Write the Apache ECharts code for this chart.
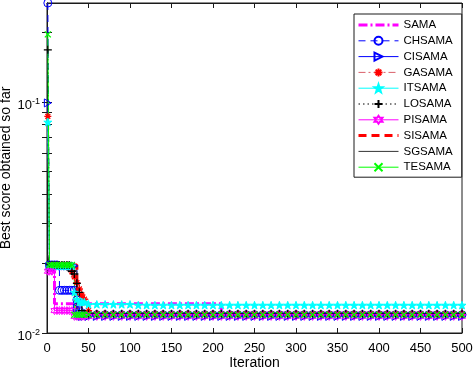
<!DOCTYPE html>
<html>
<head>
<meta charset="utf-8">
<script src="https://cdn.jsdelivr.net/npm/echarts@6/dist/echarts.min.js"></script>
<style>
html,body{margin:0;padding:0;background:#fff;}
#c{width:474px;height:371px;}
</style>
</head>
<body>
<div id="c"></div>
<script>
// ---- data ----
const iterations = [1,3,6,9,12,15,18,21,24,27,30,33,36,39,42,45,
  50,60,70,80,90,100,110,120,130,140,150,160,170,180,190,200,210,220,230,240,250,
  260,270,280,290,300,310,320,330,340,350,360,370,380,390,400,410,420,430,440,450,
  460,470,480,490,500];

const seriesNames = ['SAMA','CHSAMA','CISAMA','GASAMA','ITSAMA','LOSAMA','PISAMA','SISAMA','SGSAMA','TESAMA'];

const SAMA = [0.0186,0.0186,0.0186,0.0134,0.0134,0.0134,0.0134,0.0134,0.0134,0.0134,0.0134,0.0134,0.0134,0.0134,0.0134,0.0134,
  0.0134,0.0134,0.0134,0.0134,0.0134,0.0134,0.0134,0.0134,0.0134,0.0134,0.0134,0.0134,0.0134,0.0134,0.0134,0.0134,
  0.0122,0.0122,0.0122,0.0122,0.0122,0.0122,0.0122,0.0122,0.0122,0.0122,0.0122,0.0122,0.0122,0.0122,0.0122,0.0122,
  0.0122,0.0122,0.0122,0.0122,0.0122,0.0122,0.0122,0.0122,0.0122,0.0122,0.0122,0.0122,0.0122,0.0122];
const CHSAMA = [0.268,0.0197,0.0197,0.0197,0.0197,0.0153,0.0153,0.0153,0.0153,0.0153,0.0153,0.0153,0.0139,0.0125,0.0121,0.0121,
  0.0120,0.0120,0.0120,0.0120,0.0120,0.0120,0.0120,0.0120,0.0120,0.0120,0.0120,0.0120,0.0120,0.0120,0.0120,0.0120,
  0.0120,0.0120,0.0120,0.0120,0.0120,0.0120,0.0120,0.0120,0.0120,0.0120,0.0120,0.0120,0.0120,0.0120,0.0120,0.0120,
  0.0120,0.0120,0.0120,0.0120,0.0120,0.0120,0.0120,0.0120,0.0120,0.0120,0.0120,0.0120,0.0120,0.0120];
const CISAMA = [0.099,0.0195,0.0195,0.0195,0.0195,0.0195,0.0195,0.0195,0.0195,0.0195,0.0195,0.0195,0.0128,0.0119,0.0118,0.0118,
  0.0118,0.0118,0.0118,0.0118,0.0118,0.0118,0.0118,0.0118,0.0118,0.0118,0.0118,0.0118,0.0118,0.0118,0.0118,0.0118,
  0.0118,0.0118,0.0118,0.0118,0.0118,0.0118,0.0118,0.0118,0.0118,0.0118,0.0118,0.0118,0.0118,0.0118,0.0118,0.0118,
  0.0118,0.0118,0.0118,0.0118,0.0118,0.0118,0.0118,0.0118,0.0118,0.0118,0.0118,0.0118,0.0118,0.0118];
const GASAMA = [0.0866,0.0197,0.0197,0.0197,0.0197,0.0197,0.0197,0.0197,0.0197,0.0197,0.0184,0.0175,0.0165,0.0155,0.0146,0.0140,
  0.0125,0.0121,0.0121,0.0121,0.0121,0.0121,0.0121,0.0121,0.0121,0.0121,0.0121,0.0121,0.0121,0.0121,0.0121,0.0121,
  0.0121,0.0121,0.0121,0.0121,0.0121,0.0121,0.0121,0.0121,0.0121,0.0121,0.0121,0.0121,0.0121,0.0121,0.0121,0.0121,
  0.0121,0.0121,0.0121,0.0121,0.0121,0.0121,0.0121,0.0121,0.0121,0.0121,0.0121,0.0121,0.0121,0.0121];
const ITSAMA = [0.0818,0.0195,0.0195,0.0195,0.0195,0.0195,0.0195,0.0195,0.0195,0.0195,0.0195,0.0150,0.0140,0.0136,0.0136,0.0136,
  0.0133,0.0133,0.0133,0.0133,0.0133,0.0133,0.0132,0.0132,0.0132,0.0132,0.0132,0.0132,0.0132,0.0132,0.0132,0.0132,
  0.0132,0.0132,0.0132,0.0132,0.0132,0.0132,0.0132,0.0132,0.0132,0.0132,0.0132,0.0132,0.0132,0.0132,0.0132,0.0132,
  0.0132,0.0132,0.0132,0.0132,0.0132,0.0132,0.0132,0.0132,0.0132,0.0132,0.0132,0.0132,0.0132,0.0132];
const LOSAMA = [0.168,0.0197,0.0197,0.0197,0.0197,0.0197,0.0197,0.0197,0.0197,0.0197,0.0185,0.0180,0.0164,0.0150,0.0125,0.0121,
  0.0121,0.0121,0.0121,0.0121,0.0121,0.0121,0.0121,0.0121,0.0121,0.0121,0.0121,0.0121,0.0121,0.0121,0.0121,0.0121,
  0.0121,0.0121,0.0121,0.0121,0.0121,0.0121,0.0121,0.0121,0.0121,0.0121,0.0121,0.0121,0.0121,0.0121,0.0121,0.0121,
  0.0121,0.0121,0.0121,0.0121,0.0121,0.0121,0.0121,0.0121,0.0121,0.0121,0.0121,0.0121,0.0121,0.0121];
const PISAMA = [0.0185,0.0185,0.0185,0.0125,0.0125,0.0125,0.0125,0.0125,0.0125,0.0125,0.0125,0.0118,0.0118,0.0118,0.0118,0.0118,
  0.0118,0.0118,0.0118,0.0118,0.0118,0.0118,0.0118,0.0118,0.0118,0.0118,0.0118,0.0118,0.0118,0.0118,0.0118,0.0118,
  0.0118,0.0118,0.0118,0.0118,0.0118,0.0118,0.0118,0.0118,0.0118,0.0118,0.0118,0.0118,0.0118,0.0118,0.0118,0.0118,
  0.0118,0.0118,0.0118,0.0118,0.0118,0.0118,0.0118,0.0118,0.0118,0.0118,0.0118,0.0118,0.0118,0.0118];
const SISAMA = [0.0200,0.0197,0.0197,0.0197,0.0197,0.0197,0.0197,0.0197,0.0197,0.0197,0.0197,0.0197,0.0121,0.0121,0.0121,0.0121,
  0.0121,0.0121,0.0121,0.0121,0.0121,0.0121,0.0121,0.0121,0.0121,0.0121,0.0121,0.0121,0.0121,0.0121,0.0121,0.0121,
  0.0121,0.0121,0.0121,0.0121,0.0121,0.0121,0.0121,0.0121,0.0121,0.0121,0.0121,0.0121,0.0121,0.0121,0.0121,0.0121,
  0.0121,0.0121,0.0121,0.0121,0.0121,0.0121,0.0121,0.0121,0.0121,0.0121,0.0121,0.0121,0.0121,0.0121];
const SGSAMA = [0.0218,0.0195,0.0195,0.0195,0.0195,0.0195,0.0195,0.0195,0.0186,0.0186,0.0186,0.0186,0.0121,0.0121,0.0121,0.0121,
  0.0121,0.0121,0.0121,0.0121,0.0121,0.0121,0.0121,0.0121,0.0121,0.0121,0.0121,0.0121,0.0121,0.0121,0.0121,0.0121,
  0.0121,0.0121,0.0121,0.0121,0.0121,0.0121,0.0121,0.0121,0.0121,0.0121,0.0121,0.0121,0.0121,0.0121,0.0121,0.0121,
  0.0121,0.0121,0.0121,0.0121,0.0121,0.0121,0.0121,0.0121,0.0121,0.0121,0.0121,0.0121,0.0121,0.0121];
const TESAMA = [0.196,0.0197,0.0197,0.0197,0.0197,0.0197,0.0197,0.0197,0.0197,0.0197,0.0197,0.0120,0.0120,0.0120,0.0120,0.0120,
  0.0120,0.0120,0.0120,0.0120,0.0120,0.0120,0.0120,0.0120,0.0120,0.0120,0.0120,0.0120,0.0120,0.0120,0.0120,0.0120,
  0.0120,0.0120,0.0120,0.0120,0.0120,0.0120,0.0120,0.0120,0.0120,0.0120,0.0120,0.0120,0.0120,0.0120,0.0120,0.0120,
  0.0120,0.0120,0.0120,0.0120,0.0120,0.0120,0.0120,0.0120,0.0120,0.0120,0.0120,0.0120,0.0120,0.0120];

const xTicks = [0,50,100,150,200,250,300,350,400,450,500];
const yRange = [0.01, 0.268];
const yTicks = [0.01,0.02,0.03,0.04,0.05,0.06,0.07,0.08,0.09,0.1,0.2];
const yLabels = [0.01, 0.1];

// ---- styles ----
const P_PLUS = 'path://M0,-5L0,5M-5,0L5,0';
const P_X = 'path://M-5,-5L5,5M-5,5L5,-5';
const P_AST = 'path://M0,-5L0,5M-5,0L5,0M-3.5,-3.5L3.5,3.5M-3.5,3.5L3.5,-3.5';
const P_TRI = 'path://M-4.33,-5L4.33,0L-4.33,5Z';
const P_PENT = 'path://M0,-10L2.35,-3.24L9.51,-3.09L3.8,1.24L5.88,8.09L0,4L-5.88,8.09L-3.8,1.24L-9.51,-3.09L-2.35,-3.24Z';
const P_HEX = 'path://M0,-10L2.887,-5L8.66,-5L5.774,0L8.66,5L2.887,5L0,10L-2.887,5L-8.66,5L-5.774,0L-8.66,-5L-2.887,-5Z';

const styles = {
  SAMA:   {line:'#ff00ff', type:[9,3,2,3], width:3, symbol:'none'},
  CHSAMA: {line:'#0000ff', type:[7,5], width:1, symbol:'circle', fill:'rgba(0,0,0,0)', stroke:'#0000ff', size:8},
  CISAMA: {line:'#0000ff', type:'solid', width:1, symbol:P_TRI, fill:'rgba(0,0,0,0)', stroke:'#0000ff', size:8},
  GASAMA: {line:'#d9606a', type:[7,3,2,3], width:1, symbol:P_AST, fill:'#ff0000', stroke:'#ff0000', size:7, bw:1.3},
  ITSAMA: {line:'#00ffff', type:'solid', width:1, symbol:P_PENT, fill:'#00ffff', stroke:'#00ffff', size:8},
  LOSAMA: {line:'#000000', type:[1.5,3], width:1, symbol:P_PLUS, fill:'#000', stroke:'#000', size:8, bw:1.3},
  PISAMA: {line:'#ff00ff', type:'solid', width:1, symbol:P_HEX, fill:'rgba(0,0,0,0)', stroke:'#ff00ff', size:8},
  SISAMA: {line:'#ff0000', type:[8,5], width:3, symbol:'none'},
  SGSAMA: {line:'#333333', type:'solid', width:1, symbol:'none'},
  TESAMA: {line:'#00ff00', type:'solid', width:1, symbol:P_X, fill:'#00ff00', stroke:'#00ff00', size:6, bw:1.3}
};
const dataMap = {SAMA, CHSAMA, CISAMA, GASAMA, ITSAMA, LOSAMA, PISAMA, SISAMA, SGSAMA, TESAMA};

const series = seriesNames.map(name => {
  const s = styles[name];
  const noSym = s.symbol === 'none';
  return {
    name: name,
    type: 'line',
    step: 'end',
    data: iterations.map((it, i) => [it, dataMap[name][i]]),
    symbol: noSym ? 'circle' : s.symbol,
    symbolSize: noSym ? 0 : s.size,
    showSymbol: !noSym,
    symbolKeepAspect: true,
    lineStyle: {color: s.line, type: s.type, width: s.width},
    itemStyle: noSym ? {color: 'rgba(0,0,0,0)', borderWidth: 0, borderColor: 'rgba(0,0,0,0)'}
                     : {color: s.fill, borderColor: s.stroke, borderWidth: s.bw || 1},
    emphasis: {disabled: true},
    animation: false,
    clip: true
  };
});

const legendData = seriesNames.map(name => ({
  name: name,
  lineStyle: {width: styles[name].width}
}));

const axisColor = '#1a1a1a';
const fontFam = '"Liberation Sans", Arial, sans-serif';
const chart = echarts.init(document.getElementById('c'), null, {renderer: 'canvas'});
chart.setOption({
  backgroundColor: '#fff',
  animation: false,
  grid: {left: 47, right: 12, top: 3, bottom: 38, show: true, borderColor: axisColor, borderWidth: 1,
         backgroundColor: '#fff', containLabel: false, outerBoundsMode: 'none'},
  legend: {
    data: legendData,
    orient: 'vertical',
    left: 354, top: 14,
    itemWidth: 40, itemHeight: 10, itemGap: 3.8,
    padding: [5, 9, 4, 3],
    backgroundColor: '#fff',
    borderColor: axisColor, borderWidth: 1, borderRadius: 0,
    textStyle: {fontFamily: fontFam, fontSize: 11.5, color: '#000'},
    selectedMode: false
  },
  xAxis: [{
    type: 'value', min: 0, max: 500, interval: 50, position: 'bottom',
    name: 'Iteration', nameLocation: 'middle', nameGap: 23, nameMoveOverlap: false,
    nameTextStyle: {fontFamily: fontFam, fontSize: 14, color: '#000'},
    axisLine: {lineStyle: {color: axisColor}},
    axisTick: {inside: true, length: 5, lineStyle: {color: axisColor}, customValues: xTicks},
    axisLabel: {fontFamily: fontFam, fontSize: 13, color: '#000', margin: 9, customValues: xTicks},
    splitLine: {show: false}
  }, {
    type: 'value', min: 0, max: 500, interval: 50, position: 'top',
    axisLine: {lineStyle: {color: axisColor}},
    axisTick: {inside: true, length: 5, lineStyle: {color: axisColor}},
    axisLabel: {show: false},
    splitLine: {show: false}
  }],
  yAxis: [{
    type: 'log', min: yRange[0], max: yRange[1], position: 'left',
    name: 'Best score obtained so far', nameLocation: 'middle', nameGap: 34, nameMoveOverlap: false,
    nameTextStyle: {fontFamily: fontFam, fontSize: 14, color: '#000'},
    axisLine: {show: true, lineStyle: {color: axisColor}},
    axisTick: {show: true, inside: true, length: 5, lineStyle: {color: axisColor}, customValues: yTicks},
    axisLabel: {
      customValues: yLabels, margin: 7,
      formatter: v => '{b|10}{s|' + Math.round(Math.log10(v)) + '}',
      rich: {
        b: {fontFamily: fontFam, fontSize: 13, color: '#000', lineHeight: 20, verticalAlign: 'bottom'},
        s: {fontFamily: fontFam, fontSize: 9, color: '#000', lineHeight: 20, verticalAlign: 'middle'}
      }
    },
    splitLine: {show: false}, minorTick: {show: false}
  }, {
    type: 'log', min: yRange[0], max: yRange[1], position: 'right',
    axisLine: {show: true, lineStyle: {color: axisColor}},
    axisTick: {show: true, inside: true, length: 5, lineStyle: {color: axisColor}, customValues: yTicks},
    axisLabel: {show: false},
    splitLine: {show: false}
  }],
  series: series
});
</script>
</body>
</html>
